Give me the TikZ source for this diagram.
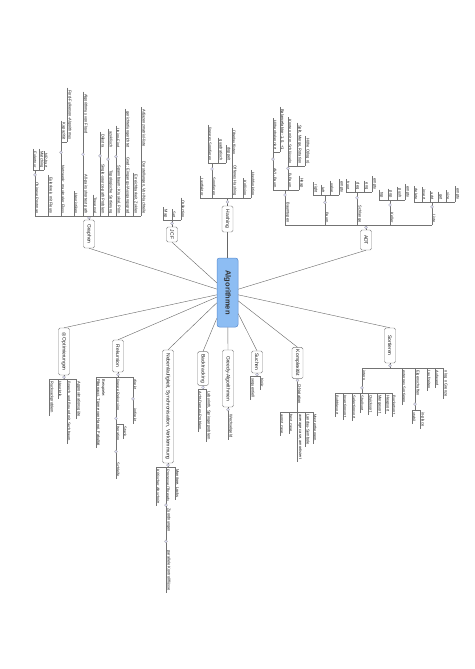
\documentclass[tikz,border=0pt]{standalone}
\usepackage{fontspec}
\setmainfont{Liberation Sans}
\newfontfamily\symf{DejaVu Sans}
\definecolor{rootf}{HTML}{8DBDF3}
\definecolor{rootb}{HTML}{5A8DD0}
\tikzset{
 conn/.style={draw=black!60, line width=0.4pt},
 ul/.style={draw=black!55, line width=0.35pt},
 rootnode/.style={draw=rootb, fill=rootf, rounded corners=2.5pt, line width=0.5pt, rotate=-90,
   minimum width=69pt, minimum height=21pt, inner sep=1pt,
   font=\fontsize{7.5}{9}\selectfont\bfseries, text=black!80},
 topic/.style={draw=black!50, fill=white, rounded corners=1.5pt, line width=0.45pt, rotate=-90,
   minimum height=11pt, inner xsep=2.5pt, inner ysep=1pt,
   font=\fontsize{5}{6}\selectfont, text=black!90},
 leaf/.style={rotate=-90, inner xsep=0.4pt, inner ysep=0.7pt, outer xsep=2pt, outer ysep=0pt,
   align=left, font=\fontsize{4}{4.8}\selectfont, text=black!90},
 knob/.style={circle, draw=black!35, fill=blue!12, minimum size=3pt, inner sep=0pt, line width=0.3pt},
}
% leaf above its bar (text ends at the bar)
\newcommand\Lu[4]{\node[leaf,anchor=south east] (#1) at (#2,0 |- #3) {#4};
  \draw[ul] (#1.south west) -- (#1.south east);}
% leaf below its bar (text starts at the bar)
\newcommand\Ld[4]{\node[leaf,anchor=south west] (#1) at (#2,0 |- #3) {#4};
  \draw[ul] (#1.south west) -- (#1.south east);}
\begin{document}
\begin{tikzpicture}[x=1pt,y=-1pt]
\fill[white] (0,0) rectangle (474,669);
\useasboundingbox (0,0) rectangle (474,669);

% ---------- root and topics ----------
\node[rootnode] (root) at (227.5,292.5) {Algorithmen};

\node[topic, minimum width=28pt] (gra) at (89,234) {Graphen};
\node[topic, minimum width=15pt] (jcf) at (172,234.5) {JCF};
\node[topic, minimum width=26pt] (has) at (227.5,219) {Hashing};
\node[topic, minimum width=20pt] (adt) at (366,240) {ADT};
\node[topic, minimum width=47pt] (opt) at (64,351.5) {{\symf ◎} Optimierungen};
\node[topic, minimum width=32pt] (rek) at (118,356) {Rekursion};
\node[topic, minimum width=113pt] (neb) at (168,406.5) {Nebenläufigkeit, Synchronisation, Verklemmung};
\node[topic, minimum width=33pt] (bac) at (203,368.5) {Backtracking};
\node[topic, minimum width=57pt] (gre) at (228,378.5) {Greedy-Algorithmen};
\node[topic, minimum width=20pt] (suc) at (257,362) {Suchen};
\node[topic, minimum width=30pt] (kom) at (297.5,363) {Komplexität};
\node[topic, minimum width=35pt] (sor) at (390,345.5) {Sortieren};

\foreach \t in {gra,jcf,has,adt} \draw[conn] (root) -- (\t.east);
\foreach \t in {opt,rek,neb,bac,gre,suc,kom,sor} \draw[conn] (root) -- (\t.west);

% ---------- Graphen ----------
\coordinate (graB) at (gra.west |- 0,216);
\draw[conn] (gra.west) -- node[knob]{} (graB);
\Lu{g1}{35}{graB}{Chinese Postman}
\Lu{g2}{48}{graB}{Eulerkreis mit Fleury}
\Lu{g3}{61}{graB}{Netzwerk: maximaler Fluss}
\Lu{g4}{74}{graB}{Heuristiken}
\Lu{g5}{83}{graB}{All-pairs shortest path}
\Lu{g6}{93}{graB}{Traversal}
\Lu{g7}{100}{graB}{Single-source-path Problem}
\Lu{g8}{108}{graB}{Topologische Sortierung}
\Lu{g9}{116}{graB}{Spannbaum: Kruskal, Prim}
\Lu{g10}{125}{graB}{Grad: Eingangs-/Ausgangsgrad}
\Lu{g11}{133}{graB}{Erreichbarkeit, Zyklen}
\Lu{g12}{141}{graB}{Darstellungen, Vor-/Nachteile}
\draw[ul] (g1.south east) -- (g12.south east);

\coordinate (g1B) at (g1.south west |- 0,170);
\draw[ul] (g1.south west) -- node[knob]{} (g1B);
\Lu{g1a}{33}{g1B}{Eulertour}
\Lu{g1b}{39}{g1B}{Matching}
\Lu{g1c}{44}{g1B}{NP-hart}
\draw[ul] (g1a.south east) -- (g1c.south east);

\coordinate (g3B) at (g3.south west |- 0,142);
\draw[ul] (g3.south west) -- node[knob]{} (g3B);
\Lu{g3a}{61}{g3B}{Kapazität}
\Lu{g3b}{67}{g3B}{Ford-Fulkerson-Algorithmus}
\draw[ul] (g3a.south east) -- (g3b.south east);

\coordinate (g5B) at (g5.south west |- 0,136);
\draw[ul] (g5.south west) -- node[knob]{} (g5B);
\Lu{g5a}{83}{g5B}{Algorithmus von Floyd}

\coordinate (g7B) at (g7.south west |- 0,150);
\draw[ul] (g7.south west) -- node[knob]{} (g7B);
\Lu{g7a}{100}{g7B}{Dijkstra}

\coordinate (g8B) at (g8.south west |- 0,150);
\draw[ul] (g8.south west) -- node[knob]{} (g8B);
\Lu{g8a}{108}{g8B}{azyklisch}

\coordinate (g9B) at (g9.south west |- 0,150);
\draw[ul] (g9.south west) -- node[knob]{} (g9B);
\Lu{g9a}{116}{g9B}{Union-Find}

\coordinate (g10B) at (g10.south west |- 0,150);
\draw[ul] (g10.south west) -- (g10B);
\Lu{g10a}{125}{g10B}{gerichtet/ungerichtet}

\coordinate (g12B) at (g12.south west |- 0,149);
\draw[ul] (g12.south west) -- (g12B);
\Lu{g12a}{141}{g12B}{Adjazenzmatrix/-liste}

% ---------- JCF ----------
\coordinate (jcfB) at (jcf.west |- 0,220);
\draw[conn] (jcf.west) -- node[knob]{} (jcfB);
\Lu{j1}{163}{jcfB}{Map}
\Lu{j2}{172}{jcfB}{Set}
\Lu{j3}{181}{jcfB}{Collection}
\draw[ul] (j1.south east) -- (j3.south east);

% ---------- Hashing ----------
\coordinate (hasB) at (has.west |- 0,198);
\draw[conn] (has.west) -- node[knob]{} (hasB);
\Lu{h1}{200}{hasB}{Lastfaktor}
\Lu{h2}{212}{hasB}{Sondieren}
\Lu{h3}{232}{hasB}{Offenes Hashing}
\Lu{h4}{243}{hasB}{Kollision}
\Lu{h5}{251}{hasB}{Hashfunktion}
\draw[ul] (h1.south east) -- (h5.south east);

\coordinate (h2B) at (h2.south west |- 0,163);
\draw[ul] (h2.south west) -- node[knob]{} (h2B);
\Lu{h2a}{208}{h2B}{lineares Sondieren}
\Lu{h2b}{218}{h2B}{quadratisch}
\Lu{h2c}{226}{h2B}{doppelt}
\draw[ul] (h2a.south east) -- (h2c.south east);

\coordinate (h3B) at (h3.south west |- 0,157);
\draw[ul] (h3.south west) -- (h3B);
\Lu{h3a}{232}{h3B}{Überlauflisten}

% ---------- ADT ----------
\coordinate (adtB) at (adt.west |- 0,225);
\draw[conn] (adt.west) -- node[knob]{} (adtB);
\Lu{a1}{285}{adtB}{Baumtypen}
\Lu{a2}{325}{adtB}{Baum}
\Lu{a3}{357}{adtB}{Schlange}
\Lu{a4}{390}{adtB}{Keller}
\Lu{a5}{432}{adtB}{Liste}
\draw[ul] (a1.south east) -- (a5.south east);

\coordinate (a1B) at (a1.south west |- 0,190);
\draw[ul] (a1.south west) -- node[knob]{} (a1B);
\Lu{a1a}{273}{a1B}{AVL-Baum}
\Lu{a1b}{288}{a1B}{B-Baum}
\Lu{a1c}{299}{a1B}{Heap}
\draw[ul] (a1a.south east) -- (a1c.south east);

\coordinate (a1aB) at (a1a.south west |- 0,152);
\draw[ul] (a1a.south west) -- node[knob]{} (a1aB);
\Lu{a1a1}{273}{a1aB}{Höhenbalanciert}
\Lu{a1a2}{280}{a1aB}{Balancefaktor -1, 0, +1}
\draw[ul] (a1a1.south east) -- (a1a2.south east);

\coordinate (a1bB) at (a1b.south west |- 0,166);
\draw[ul] (a1b.south west) -- node[knob]{} (a1bB);
\Lu{a1b1}{288}{a1bB}{Knoten mit m Schlüsseln}
\Lu{a1b2}{297}{a1bB}{Split, Merge, Rotation}
\Lu{a1b3}{305}{a1bB}{Höhe O(log n)}
\draw[ul] (a1b1.south east) -- (a1b3.south east);

\coordinate (a2B) at (a2.south west |- 0,195);
\draw[ul] (a2.south west) -- node[knob]{} (a2B);
\Lu{a2a}{313}{a2B}{right}
\Lu{a2b}{321}{a2B}{left}
\Lu{a2c}{330}{a2B}{value}
\Lu{a2d}{339}{a2B}{empty}
\draw[ul] (a2a.south east) -- (a2d.south east);

\coordinate (a3B) at (a3.south west |- 0,192);
\draw[ul] (a3.south west) -- node[knob]{} (a3B);
\Lu{a3a}{346}{a3B}{front}
\Lu{a3b}{355}{a3B}{deq}
\Lu{a3c}{364}{a3B}{enq}
\Lu{a3d}{372}{a3B}{empty}
\draw[ul] (a3a.south east) -- (a3d.south east);

\coordinate (a4B) at (a4.south west |- 0,200);
\draw[ul] (a4.south west) -- node[knob]{} (a4B);
\Lu{a4a}{379}{a4B}{top}
\Lu{a4b}{388}{a4B}{pop}
\Lu{a4c}{397}{a4B}{push}
\Lu{a4d}{405}{a4B}{empty}
\draw[ul] (a4a.south east) -- (a4d.south east);

\coordinate (a5B) at (a5.south west |- 0,202);
\draw[ul] (a5.south west) -- node[knob]{} (a5B);
\Lu{a5a}{414}{a5B}{delete}
\Lu{a5b}{422}{a5B}{insert}
\Lu{a5c}{430}{a5B}{add}
\Lu{a5d}{438}{a5B}{get}
\Lu{a5e}{446}{a5B}{size}
\Lu{a5f}{455}{a5B}{empty}
\draw[ul] (a5a.south east) -- (a5f.south east);

% ---------- Optimierungen ----------
\coordinate (optB) at (opt.east |- 0,379);
\draw[conn] (opt.east) -- node[knob]{} (optB);
\Ld{o1}{49}{optB}{Rucksackproblem}
\Ld{o2}{58}{optB}{Heuristik}
\Ld{o3}{67}{optB}{Branch and Bound mit Suchbaum}
\Ld{o4}{76}{optB}{Approximationsgüte}
\draw[ul] (o1.south west) -- (o4.south west);

% ---------- Rekursion ----------
\coordinate (rekB) at (rek.east |- 0,377);
\draw[conn] (rek.east) -- node[knob]{} (rekB);
\Ld{r1}{96}{rekB}{Beispiele:\\Fibonacci, Türme von Hanoi, Fakultät}
\Ld{r2}{116}{rekB}{lineare Rekursion}
\Ld{r3}{133}{rekB}{direkt}
\draw[ul] (r1.south west) -- (r3.south west);

\coordinate (r2B) at (r2.south east |- 0,424);
\draw[ul] (r2.south east) -- node[knob]{} (r2B);
\Ld{r2a}{116}{r2B}{Iteration}
\Ld{r2b}{123}{r2B}{Stack}
\draw[ul] (r2a.south west) -- (r2b.south west);

\coordinate (r2aB) at (r2a.south east |- 0,460);
\draw[ul] (r2a.south east) -- node[knob]{} (r2aB);
\Ld{r2a1}{116}{r2aB}{Schleife}

\coordinate (r3B) at (r3.south east |- 0,406);
\draw[ul] (r3.south east) -- node[knob]{} (r3B);
\Ld{r3a}{133}{r3B}{indirekt}

% ---------- Nebenlaeufigkeit ----------
\coordinate (nebB) at (neb.east |- 0,467);
\draw[conn] (neb.east) -- node[knob]{} (nebB);
\Ld{n1}{156}{nebB}{Kritischer Abschnitt}
\Ld{n2}{166}{nebB}{Prozesse/Threads}
\Ld{n3}{175}{nebB}{Monitore, Locks}
\draw[ul] (n1.south west) -- (n3.south west);

\coordinate (n2B) at (n2.south east |- 0,506);
\draw[ul] (n2.south east) -- node[knob]{} (n2B);
\Ld{n2a}{166}{n2B}{Zuordnungen}

\coordinate (n2aB) at (n2a.south east |- 0,548);
\draw[ul] (n2a.south east) -- node[knob]{} (n2aB);
\Ld{n2a1}{166}{n2aB}{parallele Kontrollflüsse}

% ---------- Backtracking ----------
\coordinate (bacB) at (bac.east |- 0,389);
\draw[conn] (bac.east) -- node[knob]{} (bacB);
\Ld{b1}{198}{bacB}{Acht-Damen-Problem}
\Ld{b2}{206}{bacB}{Labyrinth, Springerproblem}
\draw[ul] (b1.south west) -- (b2.south west);

% ---------- Greedy ----------
\coordinate (greB) at (gre.east |- 0,412);
\draw[conn] (gre.east) -- node[knob]{} (greB);
\Ld{gr1}{228}{greB}{Wechselgeld}

% ---------- Suchen ----------
\coordinate (sucB) at (suc.east |- 0,376);
\draw[conn] (suc.east) -- node[knob]{} (sucB);
\Ld{s1}{250}{sucB}{sequentiell}
\Ld{s2}{260}{sucB}{binär}
\draw[ul] (s1.south west) -- (s2.south west);

% ---------- Komplexitaet ----------
\coordinate (komB) at (kom.east |- 0,382);
\draw[conn] (kom.east) -- node[knob]{} (komB);
\Ld{k1}{297.5}{komB}{O-Notation}

\coordinate (k1B) at (k1.south east |- 0,412);
\draw[ul] (k1.south east) -- (k1B);
\Ld{k1a}{280}{k1B}{worst case}
\Ld{k1b}{289}{k1B}{best case}
\Ld{k1c}{297.5}{k1B}{average case, amortisiert}
\Ld{k1d}{305}{k1B}{Landau-Symbole}
\Ld{k1e}{313}{k1B}{Mastertheorem}
\draw[ul] (k1a.south west) -- (k1e.south west);

% ---------- Sortieren ----------
\coordinate (sorB) at (sor.east |- 0,368);
\draw[conn] (sor.east) -- node[knob]{} (sorB);
\Ld{t1}{362}{sorB}{intern}
\Ld{t2}{402}{sorB}{externes Sortieren}
\Ld{t3}{415}{sorB}{Eigenschaften}
\Ld{t4}{427}{sorB}{Laufzeiten}
\Ld{t5}{435}{sorB}{Aufwand}
\Ld{t6}{443}{sorB}{n log n Grenze}
\draw[ul] (t1.south west) -- (t6.south west);

\coordinate (t1B) at (t1.south east |- 0,393);
\draw[ul] (t1.south east) -- node[knob]{} (t1B);
\Ld{t1a}{335}{t1B}{Bubblesort}
\Ld{t1b}{343}{t1B}{Insertionsort}
\Ld{t1c}{352}{t1B}{Selectionsort}
\Ld{t1d}{360}{t1B}{Shellsort}
\Ld{t1e}{368}{t1B}{Quicksort}
\Ld{t1f}{377}{t1B}{Mergesort}
\Ld{t1g}{385}{t1B}{Heapsort}
\Ld{t1h}{392}{t1B}{Bucketsort}
\draw[ul] (t1a.south west) -- (t1h.south west);

\coordinate (t3B) at (t3.south east |- 0,410);
\draw[ul] (t3.south east) -- node[knob]{} (t3B);
\Ld{t3a}{412}{t3B}{stabil}
\Ld{t3b}{420}{t3B}{in-place}
\draw[ul] (t3a.south west) -- (t3b.south west);
\end{tikzpicture}
\end{document}
